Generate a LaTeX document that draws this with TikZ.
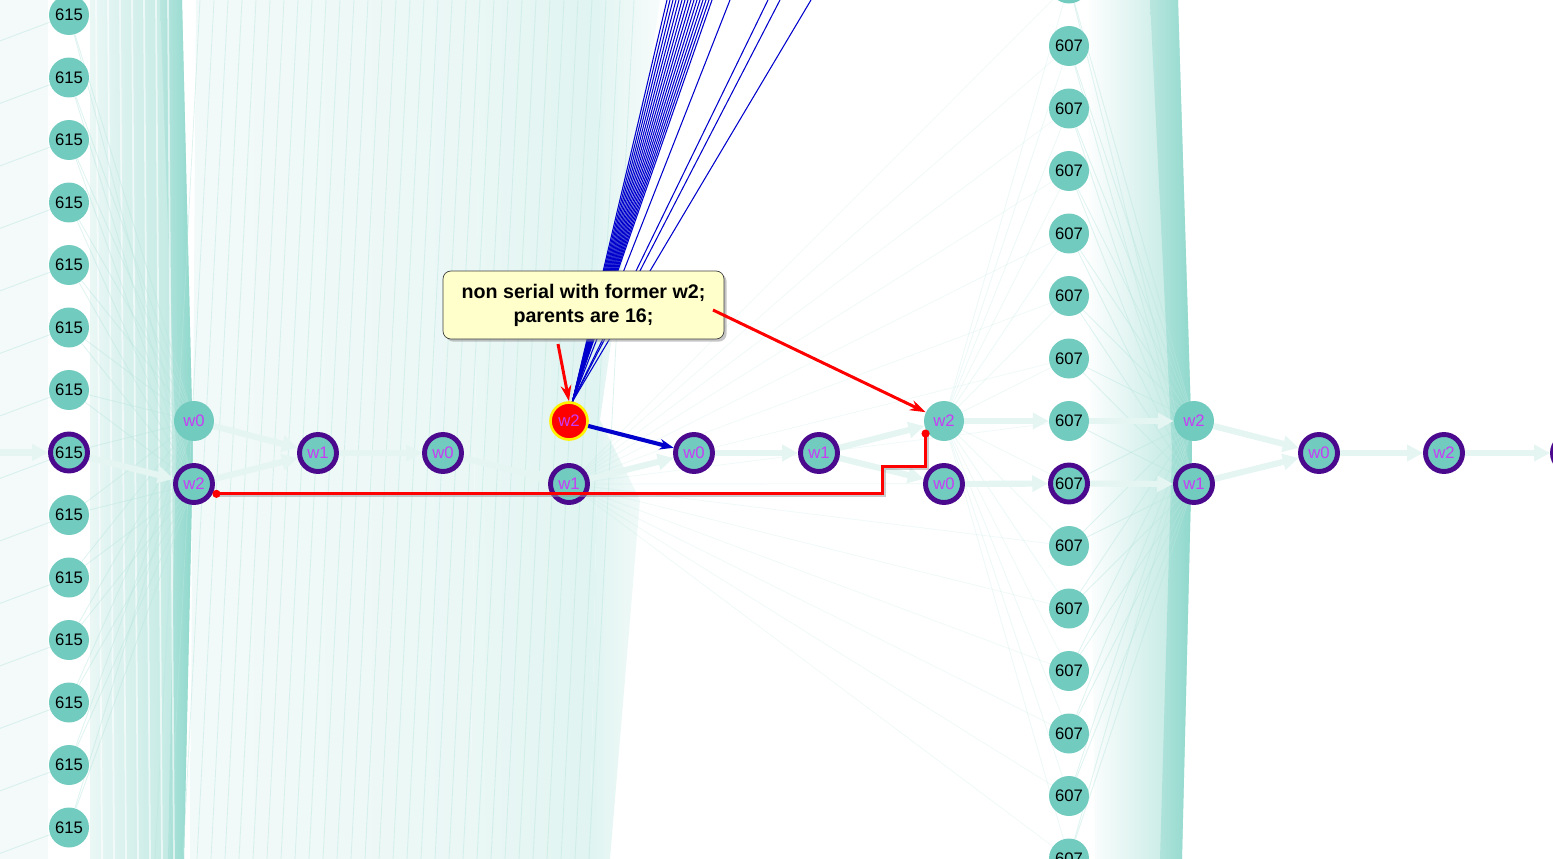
\documentclass[tikz,border=0pt]{standalone}
\usepackage{fontspec}
\setmainfont{Liberation Sans}
\usepackage{tikz}
\usetikzlibrary{positioning, arrows.meta, shadows, backgrounds}
\definecolor{nodeteal}{HTML}{72CBBF}
\definecolor{ringpurple}{HTML}{4B0A8E}
\definecolor{wpink}{HTML}{C83CF5}
\definecolor{edgeteal}{HTML}{E4F5F2}
\definecolor{hairteal}{HTML}{B9E6DF}
\definecolor{bandteal}{HTML}{8FD8CC}
\definecolor{paleteal}{HTML}{EAF7F5}
\definecolor{noteyellow}{HTML}{FFFFCC}
\definecolor{hiblue}{HTML}{0000CC}
\tikzstyle{redarrow} = [draw=red, line width=1.7pt, -{Stealth[length=9pt,width=6pt]}]

\begin{document}
\begin{tikzpicture}[x=0.02cm, y=-0.02cm, font=\fontsize{9.5}{10}\selectfont,
    vtx/.style={circle, fill=nodeteal, minimum size=0.8cm, inner sep=0pt},
    vtxring/.style={circle, fill=nodeteal, draw=ringpurple, line width=2.8pt, minimum size=0.74cm, inner sep=0pt},
    wname/.style={text=wpink},
    faint/.style={draw=edgeteal, line width=3.5pt, -{Triangle[length=9pt,width=9pt]}},
    hair/.style={draw=hairteal, line width=0.5pt, opacity=0.45}]
    \useasboundingbox (0,0) rectangle (1553,859);
    \clip (0,0) rectangle (1553,859);

    % Column 615
    \foreach \i in {0,...,6,8,9,...,13}
        \node[vtx] (n615-\i) at (69,15+62.5*\i) {615};
    \node[vtxring] (n615-7) at (69,452.5) {615};

    % Column 607
    \foreach \k in {-1,0,...,6,8,9,...,13}
        \node[vtx] (n607-\k) at (1069,46+62.5*\k) {607};
    \node[vtxring] (n607-7) at (1069,483.5) {607};

    % Workers
    \node[vtx, wname] (w0l) at (194,421) {w0};
    \node[vtxring, wname] (w2l) at (194,484) {w2};
    \node[vtxring, wname] (w1a) at (318,453) {w1};
    \node[vtxring, wname] (w0a) at (443,453) {w0};
    \node[circle, fill=red, draw=yellow, line width=1.5pt, minimum size=0.74cm, inner sep=0pt, wname] (w2red) at (569,421) {w2};
    \node[vtxring, wname] (w1b) at (569,484) {w1};
    \node[vtxring, wname] (w0b) at (694,453) {w0};
    \node[vtxring, wname] (w1c) at (819,453) {w1};
    \node[vtx, wname] (w2c) at (944,421) {w2};
    \node[vtxring, wname] (w0c) at (944,484) {w0};
    \node[vtx, wname] (w2d) at (1194,421) {w2};
    \node[vtxring, wname] (w1d) at (1194,484) {w1};
    \node[vtxring, wname] (w0d) at (1319,453) {w0};
    \node[vtxring, wname] (w2e) at (1444,453) {w2};
    \node[vtxring] (wcut) at (1571,453) {};

    \begin{scope}[on background layer]
        % Shaded bundles
        \fill[paleteal!60] (0,0) rectangle (48,859);
        \shade[left color=paleteal, right color=hairteal] (90,0) -- (182,0) -- (193,450) -- (184,859) -- (90,859) -- cycle;
        \shade[left color=hairteal, right color=bandteal] (160,0) -- (182,0) -- (193,450) -- (184,859) -- (168,859) -- (176,450) -- cycle;
        \shade[left color=paleteal!60, right color=paleteal] (196,0) -- (480,0) -- (470,859) -- (190,859) -- cycle;
        \shade[left color=paleteal, right color=hairteal!45] (480,0) -- (600,0) -- (598,420) -- (590,859) -- (470,859) -- cycle;
        \shade[left color=hairteal!45, right color=paleteal!40] (600,0) -- (660,0) -- (600,420) -- (640,500) -- (610,859) -- (590,859) -- (598,420) -- cycle;
        \shade[left color=white, right color=hairteal] (1085,0) -- (1178,0) -- (1192,450) -- (1182,859) -- (1095,859) -- cycle;
        \shade[left color=hairteal, right color=bandteal] (1150,0) -- (1178,0) -- (1192,450) -- (1182,859) -- (1160,859) -- (1172,450) -- cycle;

        % Hatching
        \foreach \x in {200,214,...,640}
            \draw[hair] (\x,0) -- (\x-45,859);
        \foreach \x in {96,108,...,170}
            \draw[draw=white, line width=1pt, opacity=0.6] (\x,0) -- (\x+6,859);
        \foreach \i in {0,...,13} {
            \draw[hair] (n615-\i) -- (w0l);
            \draw[hair] (n615-\i) -- (w2l);
            \draw[hair] (n615-\i) -- ++(-80,30);
        }
        \foreach \k in {-1,0,...,13} {
            \draw[hair] (n607-\k) -- (w2d);
            \draw[hair] (n607-\k) -- (w1d);
            \draw[hair, opacity=0.25] (w2c) -- (n607-\k);
            \draw[hair, opacity=0.2] (w1b) -- (n607-\k);
        }

        % Faint edges
        \foreach \u/\v in {w0l/w1a, w2l/w1a, w1a/w0a, w0a/w1b, w1b/w0b, w0b/w1c, w1c/w2c, w1c/w0c,
                w2c/n607-6, w0c/n607-7, n607-6/w2d, n607-7/w1d, w2d/w0d, w1d/w0d, w0d/w2e, w2e/wcut}
            \draw[faint] (\u) -- (\v);
        \draw[faint] (0,452.5) -- (n615-7);
        \draw[faint] (n615-7) -- (w2l);

        % Parents of the red worker
        \foreach \t [count=\k] in {667,670,...,712,730,768,780,811} {
            \coordinate (top\k) at (\t,0);
            \draw[hiblue, line width=0.6pt] (w2red.80) -- (top\k);
        }
    \end{scope}

    % Successor
    \draw[hiblue, line width=2.3pt, -{Stealth[length=8pt,width=6pt]}] (w2red) -- (w0b);

    % Former w2
    \draw[black!40, line width=1.7pt, opacity=0.5, transform canvas={xshift=1.2pt, yshift=-1.2pt}]
        (w2l.-28) -- ++(670,0) -- ++(0,-27) -| (w2c.205);
    \draw[red, line width=1.7pt, {Circle[length=4.5pt]}-{Circle[length=4.5pt]}]
        (w2l.-28) -- ++(670,0) -- ++(0,-27) -| (w2c.205);

    % Note
    \node[draw=black!75, fill=noteyellow, rounded corners=4.5pt, minimum width=5.62cm, minimum height=1.36cm,
        align=center, font=\bfseries\fontsize{11.2}{13.6}\selectfont,
        drop shadow={shadow xshift=1.5pt, shadow yshift=-1.5pt, fill=black!45}] (note) at (583.5,305)
        {non serial with former w2;\\parents are 16;};
    \coordinate (tail1) at (558,344);
    \coordinate (tail2) at (713,310);
    \draw[redarrow] (tail1) -- (w2red.north);
    \draw[redarrow] (tail2) -- (w2c);
\end{tikzpicture}
\end{document}
